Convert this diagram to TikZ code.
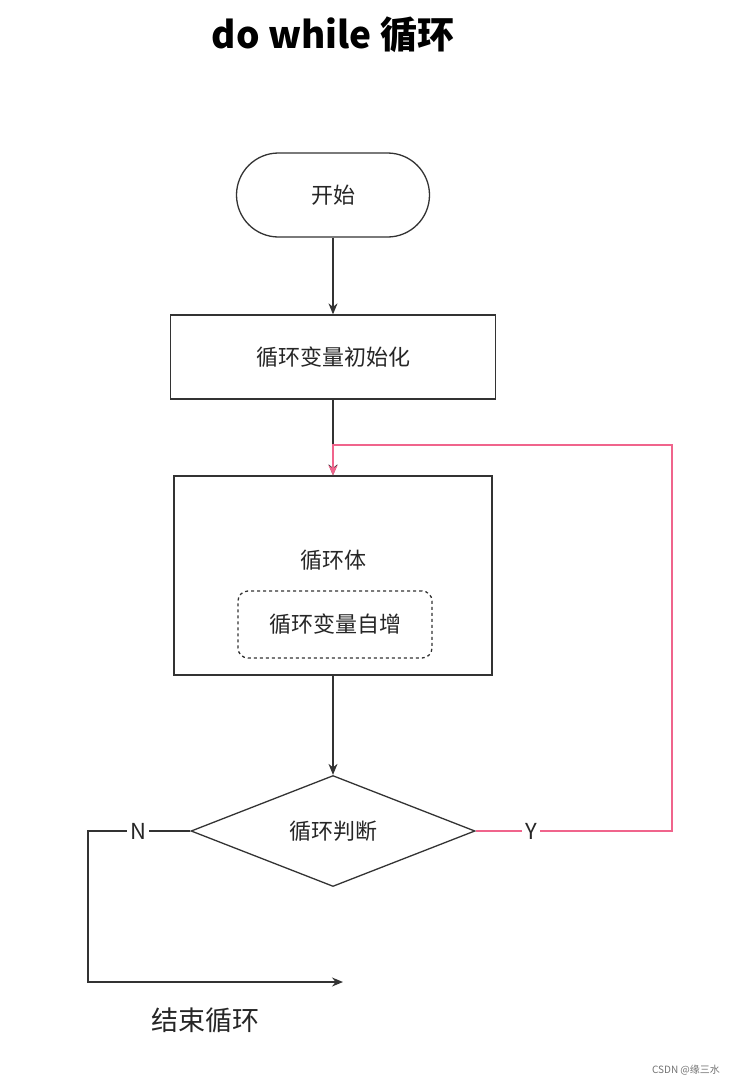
\documentclass[tikz,border=0pt]{standalone}
\usepackage{fontspec}
\setmainfont{Noto Sans CJK SC}
\usetikzlibrary{arrows.meta,shapes.geometric}
\begin{document}
\begin{tikzpicture}[x=1pt,y=-1pt,
  box/.style={draw=black!80,line width=1.3pt,inner sep=0pt},
  txt/.style={font=\fontsize{22}{26}\selectfont,text=black!85},
  arr/.style={-{Stealth[length=11pt,width=9pt]},line width=1.3pt,black!80},
  pk/.style={line width=2.6pt,draw={rgb,255:red,240;green,100;blue,140}}]
\useasboundingbox[fill=white] (0,0) rectangle (745,1085);
\node[font=\bfseries\fontsize{37}{42}\selectfont] (title) at (333,35) {do while 循环};
\node[box,rounded corners=42pt,minimum width=193pt,minimum height=84pt,txt] (start) at (333,195) {开始};
\node[box,minimum width=325pt,minimum height=84pt,txt] (init) at (333,357) {循环变量初始化};
\node[box,minimum width=318pt,minimum height=199pt] (body) at (333,575.5) {};
\node[txt] (bodyt) at (333,560) {循环体};
\node[draw=black!80,dashed,line width=1.3pt,rounded corners=10pt,minimum width=194pt,minimum height=67pt,txt] (inc) at (335,624.5) {循环变量自增};
\node[box,diamond,aspect=2.56,minimum width=284pt,minimum height=111pt,txt] (cond) at (333,831) {循环判断};
\node[txt] (N) at (138,831) {N};
\node[txt] (Y) at (531,831) {Y};
\coordinate (c1) at (88,831);
\coordinate (c2) at (88,982);
\coordinate (endp) at (343,982);
\node[font=\fontsize{27}{31}\selectfont,text=black!85] (endt) at (205,1020) {结束循环};
\coordinate (p1) at (672,831);
\coordinate (p2) at (672,445);
\coordinate (p3) at (333,445);
\node[font=\fontsize{10}{12}\selectfont,text=black!55] (wm) at (686,1070) {CSDN @缘三水};
\draw[arr] (start.south) -- (init.north);
\draw[arr] (init.south) -- (body.north);
\draw[arr] (body.south) -- (cond.north);
\draw[line width=1.3pt,black!80] (cond.west) -- (N.east);
\draw[arr] (N.west) -- (c1) -- (c2) -- (endp);
\draw[pk] (cond.east) -- (Y.west);
\draw[pk,-{Stealth[length=10pt,width=9pt]}] (Y.east) -- (p1) -- (p2) -- (p3) -- (body.north);
\end{tikzpicture}
\end{document}
